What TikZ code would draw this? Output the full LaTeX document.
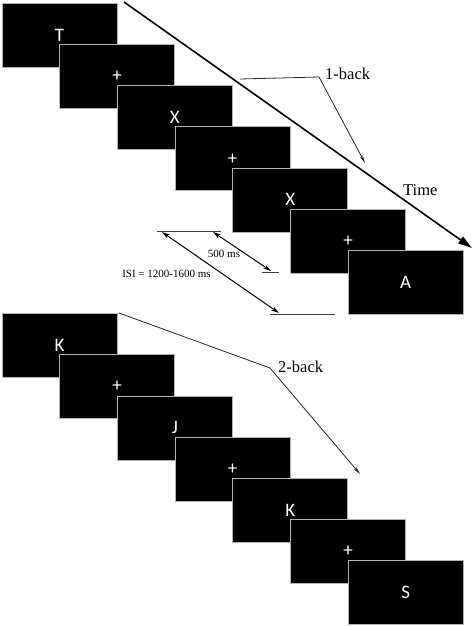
\documentclass[tikz,border=0pt]{standalone}
\usepackage{fontspec}
\setmainfont{Liberation Serif}
\newfontfamily\boxfont{Carlito}
\usetikzlibrary{arrows.meta}
\tikzset{
  stim/.style={rectangle, fill=black, draw=gray!60, line width=0.8pt, minimum width=115pt, minimum height=64pt, inner sep=0pt, text=white, font=\boxfont\fontsize{19}{19}\selectfont},
  lbl/.style={font=\fontsize{16.5}{16.5}\selectfont, inner sep=0pt},
  small/.style={font=\fontsize{11}{11}\selectfont, inner sep=0pt},
  pointer/.style={line width=0.8pt, draw=black!85, -{Stealth[length=8pt,width=3.5pt]}},
  dimarrow/.style={line width=1pt, {Stealth[length=8pt,width=4.5pt]}-{Stealth[length=8pt,width=4.5pt]}},
  tick/.style={line width=1pt, draw=black!75},
}
\begin{document}
\begin{tikzpicture}[x=1pt,y=-1pt]
\useasboundingbox (0,0) rectangle (474,626);
% top sequence
\foreach \t [count=\i from 0] in {T,+,X,+,X,+,A}{
  \node[stim] (a\i) at ({59.5+57.7*\i},{35.5+41.1*\i}) {\t};
}
% bottom sequence
\foreach \t [count=\i from 0] in {K,+,J,+,K,+,S}{
  \node[stim] (b\i) at ({59.5+57.7*\i},{345.5+41.2*\i}) {\t};
}
% time arrow
\coordinate (ts) at (124,2);
\coordinate (te) at (472,248);
\draw[line width=1.6pt, -{Triangle[length=14pt,width=8pt]}] (ts) -- (te);
\node[lbl, anchor=west] (time) at (403,190) {Time};
% 1-back
\node[lbl, anchor=west] (ob) at (325,74) {1-back};
\coordinate (o1) at (240,79);
\coordinate (o2) at (319,77);
\coordinate (o3) at (365,163);
\draw[pointer] (o1) -- (o2) -- (o3);
% 2-back
\node[lbl, anchor=west] (tb) at (278,367) {2-back};
\coordinate (t1) at (119,313);
\coordinate (t2) at (270,368);
\coordinate (t3) at (360,474);
\draw[pointer] (t1) -- (t2) -- (t3);
% timing marks
\coordinate (h1) at (157,231);
\coordinate (h2) at (221,231);
\coordinate (s1) at (262,272);
\coordinate (s2) at (279,272);
\coordinate (l1) at (270,314);
\coordinate (l2) at (335,314);
\draw[tick] (h1) -- (h2);
\draw[tick] (s1) -- (s2);
\draw[tick] (l1) -- (l2);
\coordinate (d1a) at (213,232);
\coordinate (d1b) at (271,271);
\coordinate (d2a) at (162,232);
\coordinate (d2b) at (279,313);
\draw[dimarrow] (d1a) -- (d1b);
\draw[dimarrow] (d2a) -- (d2b);
\node[small] (fh) at (224,254) {500 ms};
\node[small] (isi) at (166.5,274) {ISI = 1200-1600 ms};
\end{tikzpicture}
\end{document}
